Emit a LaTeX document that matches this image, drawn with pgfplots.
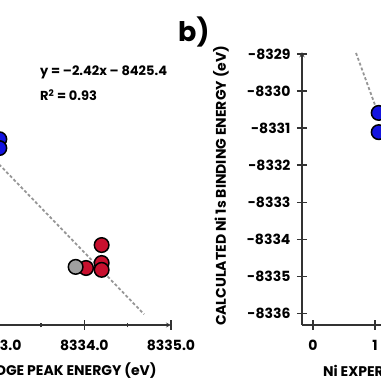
\documentclass[border=0pt]{standalone}
\usepackage{fontspec}
\setmainfont{Poppins}
\usepackage{pgfplots}
\pgfplotsset{compat=1.18}
\definecolor{ptblue}{RGB}{20,20,225}
\definecolor{ptred}{RGB}{200,16,46}
\definecolor{ptgray}{RGB}{160,160,160}
\definecolor{fitgray}{RGB}{150,150,150}
\begin{document}
\begin{tikzpicture}
\pgfplotsset{
  common/.style={
    scale only axis, clip=false,
    ymin=-8336.32, ymax=-8328.95, height=272.8pt,
    anchor=south west,
    /pgf/number format/assume math mode=true,
    tick align=outside, major tick length=10pt, minor tick length=5pt,
    axis line style={-, line width=1.2pt, black!80},
    tick style={line width=1.2pt, black!80},
    ticklabel style={font=\bfseries\fontsize{14}{14}\selectfont},
    x tick label style={yshift=-7pt},
    y tick label style={xshift=-3pt},
    label style={font=\bfseries\fontsize{14}{14}\selectfont},
  },
  mk/.style={only marks, mark=*, mark size=7.3pt, mark options={draw=black, line width=1.5pt, fill=#1}},
  fitl/.style={no marks, fitgray, line width=1.8pt, dash pattern=on 3pt off 2.2pt},
}
\begin{axis}[common, at={(-45.75pt,56pt)}, width=216.75pt,
  xmin=8332.5, xmax=8335.0,
  axis x line=bottom, axis y line=none,
  xtick={8333,8334,8335}, xticklabels={8333.0,8334.0,8335.0},
  minor xtick={8332.5,8333.5,8334.5},
  xlabel={Ni K-EDGE PEAK ENERGY (eV)},
  xlabel style={at={(axis description cs:0.95,-0.168)}, anchor=east},
]
\addplot[fitl] coordinates {(8332.6,-8330.97) (8334.69,-8336.03)};
\addplot[mk=ptblue] coordinates {(8333.02,-8331.30) (8333.02,-8331.54)};
\addplot[mk=ptred] coordinates {(8334.02,-8334.78) (8334.20,-8334.16) (8334.20,-8334.645) (8334.20,-8334.83)};
\addplot[mk=ptgray] coordinates {(8333.90,-8334.75)};
\end{axis}
\begin{axis}[common, at={(302pt,56pt)}, width=135pt,
  xmin=-0.177, xmax=2,
  axis x line=bottom, axis y line=left,
  xtick={0,1,2}, xticklabels={0,1,2},
  ytick={-8336,-8335,-8334,-8333,-8332,-8331,-8330,-8329},
  yticklabels={-8336,-8335,-8334,-8333,-8332,-8331,-8330,-8329},
  xlabel={Ni EXPERIMENTAL OXIDATION STATE},
  xlabel style={at={(axis description cs:0.13,-0.168)}, anchor=west},
  ylabel={CALCULATED Ni 1s BINDING ENERGY (eV)},
  ylabel style={at={(axis description cs:-0.6,0.51)}, anchor=center},
]
\addplot[fitl] coordinates {(0.694,-8328.97) (1.06,-8330.65)};
\addplot[mk=ptblue] coordinates {(1.06,-8330.59) (1.06,-8331.11)};
\end{axis}
\node[anchor=west, font=\bfseries\fontsize{13}{13}\selectfont, inner sep=0pt] at (40pt,309pt) {y = –2.42x – 8425.4};
\node[anchor=west, font=\bfseries\fontsize{13}{13}\selectfont, inner sep=0pt] at (40pt,286pt) {R\textsuperscript{2} = 0.93};
\node[anchor=base west, font=\bfseries\fontsize{27}{27}\selectfont, inner sep=0pt] at (178pt,339pt) {b)};
\pgfresetboundingbox
\path[use as bounding box] (0pt,0pt) rectangle (381pt,381pt);
\end{tikzpicture}
\end{document}
